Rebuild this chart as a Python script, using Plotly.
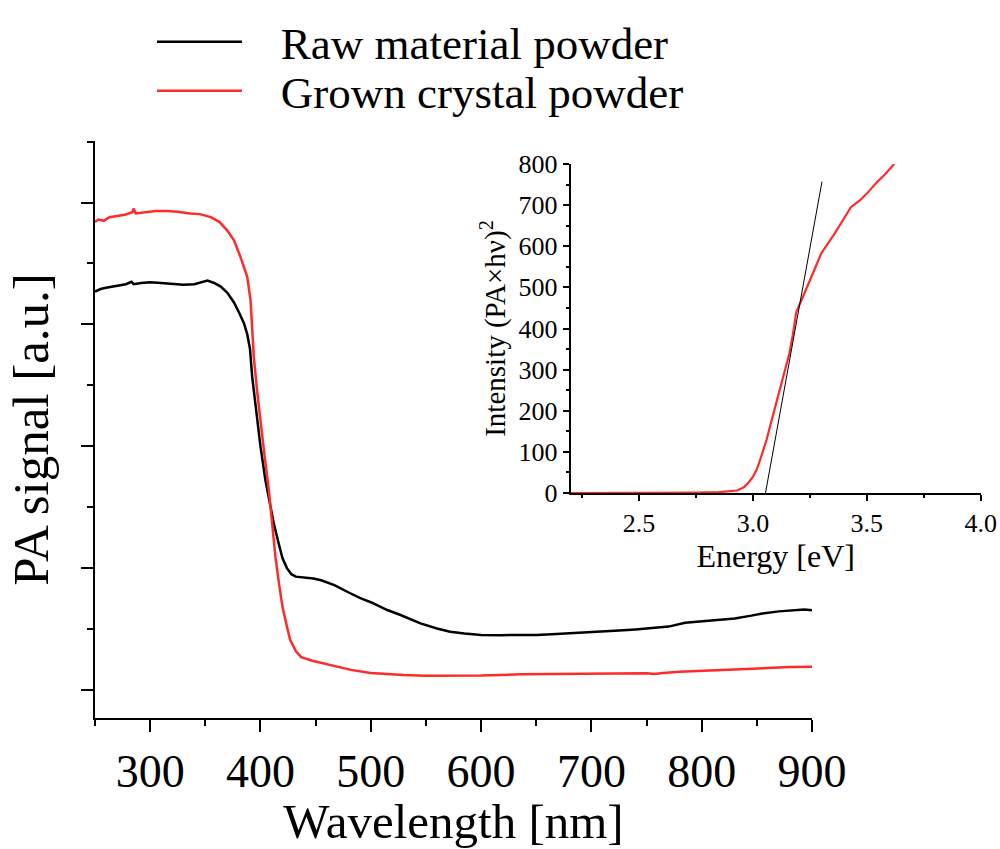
import plotly.graph_objects as go

# ---------------- data ----------------
wl_raw = [250, 255, 260, 266, 272, 278, 283, 285, 292, 300, 310, 320, 330, 340, 348, 352,
          358, 364, 370, 376, 381, 385, 388, 390.5, 392.5, 395, 397, 400, 404.5, 408, 412,
          416, 420, 424, 428, 432, 440, 448, 455, 467, 480, 490, 500, 515, 527, 545, 560,
          572, 585, 600, 618, 636, 650, 664, 680, 695, 709, 725, 740, 755, 770, 785, 800,
          815, 830, 845, 855, 870, 885, 893, 900]
pa_raw = [3.27, 3.29, 3.30, 3.31, 3.32, 3.33, 3.35, 3.33, 3.34, 3.345, 3.34, 3.335, 3.325,
          3.33, 3.35, 3.36, 3.34, 3.31, 3.26, 3.18, 3.09, 3.01, 2.92, 2.80, 2.57, 2.38, 2.19,
          2.00, 1.72, 1.55, 1.37, 1.22, 1.08, 1.00, 0.95, 0.93, 0.925, 0.915, 0.90, 0.86,
          0.80, 0.755, 0.72, 0.656, 0.615, 0.546, 0.505, 0.478, 0.463, 0.452, 0.45, 0.448,
          0.452, 0.458, 0.465, 0.47, 0.478, 0.488, 0.497, 0.506, 0.52, 0.552, 0.565, 0.575,
          0.587, 0.61, 0.628, 0.645, 0.658, 0.66, 0.655]

wl_grown = [250, 253, 258, 263, 270, 277, 284, 285, 287, 295, 305, 315, 325, 336, 345, 355,
            363, 370, 376, 382, 388, 391, 392, 394, 397, 400, 404, 407.6, 411, 413.6, 417,
            420, 424, 427, 432, 437, 447, 457, 470, 482, 500, 515, 530, 550, 570, 600, 636,
            660, 700, 739, 750, 757, 765, 780, 800, 830, 860, 880, 900]
pa_grown = [3.84, 3.86, 3.85, 3.88, 3.89, 3.90, 3.92, 3.95, 3.91, 3.92, 3.93, 3.93, 3.925,
            3.91, 3.905, 3.88, 3.84, 3.77, 3.69, 3.55, 3.39, 3.20, 3.00, 2.73, 2.45, 2.19,
            1.90, 1.64, 1.33, 1.09, 0.86, 0.68, 0.52, 0.41, 0.32, 0.27, 0.24, 0.22, 0.19,
            0.165, 0.14, 0.128, 0.122, 0.116, 0.115, 0.118, 0.128, 0.13, 0.136, 0.142, 0.138,
            0.131, 0.14, 0.15, 0.158, 0.17, 0.183, 0.188, 0.19]

energy = [2.20, 2.40, 2.60, 2.75, 2.85, 2.90, 2.93, 2.96, 2.98, 3.00, 3.015, 3.03, 3.045,
          3.06, 3.075, 3.09, 3.105, 3.12, 3.14, 3.16, 3.175, 3.185, 3.19, 3.21, 3.24, 3.26,
          3.30, 3.33, 3.36, 3.40, 3.43, 3.47, 3.50, 3.54, 3.58, 3.62]
intensity = [0, 0, 0.5, 1, 2, 3.5, 6, 14, 25, 40, 55, 78, 102, 130, 162, 194, 226, 259, 300,
             340, 385, 415, 440, 465, 502, 530, 583, 607, 632, 668, 695, 712, 728, 753, 775,
             800]

tangent_e = [3.055, 3.303]
tangent_i = [0, 757]

main_xticks = [300, 400, 500, 600, 700, 800, 900]
main_yticks = [0, 1, 2, 3, 4]
inset_xticks = [2.5, 3.0, 3.5, 4.0]
inset_yticks = [0, 100, 200, 300, 400, 500, 600, 700, 800]

RED = "#ff2a2a"
FONT = "Liberation Serif, Times New Roman, serif"
PAD = "\u00a0\u00a0\u00a0"

fig = go.Figure()
fig.add_trace(go.Scatter(x=wl_raw, y=pa_raw, mode="lines", name=PAD + "Raw material powder",
                         line=dict(color="black", width=2.5), legend="legend",
                         xaxis="x", yaxis="y"))
fig.add_trace(go.Scatter(x=wl_grown, y=pa_grown, mode="lines", name=PAD + "Grown crystal powder",
                         line=dict(color=RED, width=2.5), legend="legend2",
                         xaxis="x", yaxis="y"))
fig.add_trace(go.Scatter(x=energy, y=intensity, mode="lines", showlegend=False,
                         line=dict(color=RED, width=2.2), xaxis="x2", yaxis="y2"))
fig.add_trace(go.Scatter(x=tangent_e, y=tangent_i, mode="lines", showlegend=False,
                         line=dict(color="black", width=1), xaxis="x2", yaxis="y2"))

W, H = 1000, 849

def px(xp):
    return xp / W

def py(yp):
    return 1 - yp / H

axis_common = dict(showline=True, linecolor="black", linewidth=2, showgrid=False,
                   zeroline=False, ticks="outside", tickcolor="black", mirror=False,
                   automargin=False)

fig.update_layout(
    width=W, height=H,
    margin=dict(l=0, r=0, t=0, b=0),
    paper_bgcolor="white", plot_bgcolor="rgba(0,0,0,0)",
    font=dict(family=FONT, color="black"),
    xaxis=dict(**axis_common, domain=[px(95), px(812)], range=[250, 900],
               tickvals=main_xticks, ticklen=12, tickwidth=2,
               minor=dict(ticks="outside", ticklen=6, tickwidth=2, dtick=50, tick0=250,
                          tickcolor="black"),
               tickfont=dict(size=46, family=FONT),
               title=dict(text="Wavelength [nm]", font=dict(size=49, family=FONT),
                          standoff=8),
               anchor="y"),
    yaxis=dict(**axis_common, domain=[py(718), py(141)], range=[-0.23, 4.505],
               tickvals=main_yticks, showticklabels=False, ticklen=12, tickwidth=2,
               minor=dict(ticks="outside", ticklen=6, tickwidth=2, dtick=0.5, tick0=0,
                          tickcolor="black"),
               title=dict(text="PA signal [a.u.]", font=dict(size=51, family=FONT),
                          standoff=16),
               anchor="x"),
    xaxis2=dict(**axis_common, domain=[px(570.8), px(980.7)], range=[2.2, 4.0],
                tickvals=inset_xticks, tickformat=".1f", ticklen=6, tickwidth=2,
                minor=dict(ticks="outside", ticklen=3, tickwidth=2, dtick=0.25, tick0=2.25,
                           tickcolor="black"),
                tickfont=dict(size=26, family=FONT),
                title=dict(text="Energy [eV]", font=dict(size=32, family=FONT), standoff=4),
                anchor="y2", layer="below traces"),
    yaxis2=dict(**axis_common, domain=[py(493), py(164)], range=[0, 800],
                tickvals=inset_yticks, ticklen=6, tickwidth=2,
                minor=dict(ticks="outside", ticklen=3, tickwidth=2, dtick=50, tick0=0,
                           tickcolor="black"),
                tickfont=dict(size=26, family=FONT),
                title=dict(text="Intensity (PA×hν)<sup>2</sup>", font=dict(size=29, family=FONT),
                           standoff=4),
                anchor="x2", layer="below traces"),
    legend=dict(x=px(152), y=py(42), xanchor="left", yanchor="middle",
                font=dict(size=45, family=FONT), bgcolor="rgba(0,0,0,0)",
                itemwidth=85, borderwidth=0),
    legend2=dict(x=px(152), y=py(91), xanchor="left", yanchor="middle",
                 font=dict(size=45, family=FONT), bgcolor="rgba(0,0,0,0)",
                 itemwidth=85, borderwidth=0),
)

fig.write_html("out.html")
